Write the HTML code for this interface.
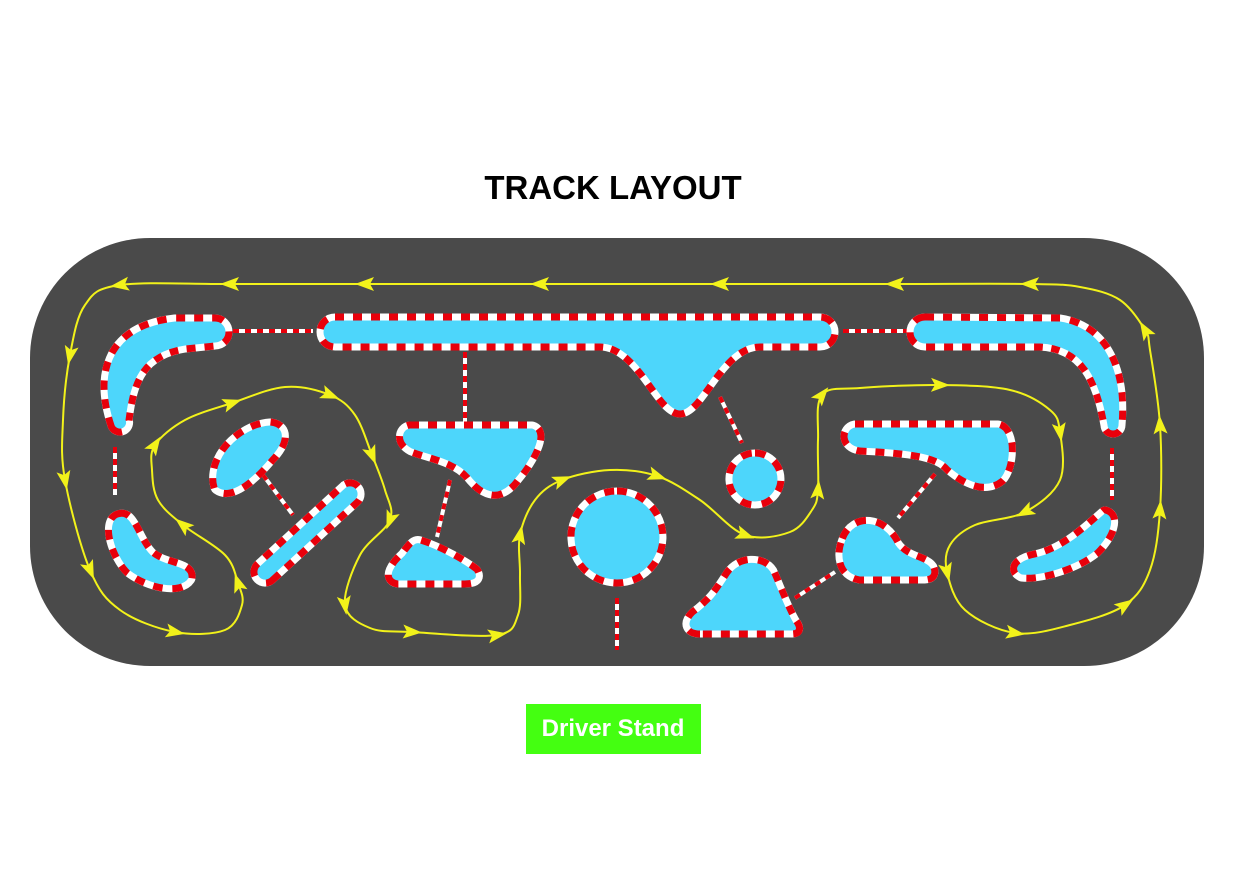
<!DOCTYPE html>
<html><head><meta charset="utf-8"><style>
html,body{margin:0;padding:0;background:#fff;width:1240px;height:877px;overflow:hidden}
svg{display:block}
</style></head><body>
<svg id="s" width="1240" height="877" viewBox="0 0 1240 877" xmlns="http://www.w3.org/2000/svg">
<text x="613" y="199" text-anchor="middle" font-family="Liberation Sans, sans-serif" font-weight="bold" font-size="33" fill="#000">TRACK LAYOUT</text>
<rect x="30" y="238" width="1174" height="428" rx="120" ry="120" fill="#4a4a4a"/>
<g id="bar"></g>
<g id="isl"></g>
<g id="yel"></g>
<rect x="526" y="704" width="175" height="50" fill="#44ff11"/>
<text x="613" y="736" text-anchor="middle" font-family="Liberation Sans, sans-serif" font-weight="bold" font-size="24" fill="#fff">Driver Stand</text>
</svg>
<script>
var NS="http://www.w3.org/2000/svg";
function el(p,t,a){var e=document.createElementNS(NS,t);for(var k in a)e.setAttribute(k,a[k]);p.appendChild(e);return e;}
var isl=document.getElementById('isl'),bar=document.getElementById('bar'),yel=document.getElementById('yel');
var islands=[
"M 115 425 C 100 380 105 330 175 322 L 215 322 A 10 10 0 0 1 215 342 L 185 345 C 140 352 130 380 125 420 A 5 5 0 0 1 115 425 Z",
"M 335 321 L 820 321 A 11 11 0 0 1 820 343 L 760 343 C 720 343 700 410 680 410 C 660 410 640 343 600 343 L 335 343 A 11 11 0 0 1 335 321 Z",
"M 925 321 L 1060 322 C 1110 330 1122 380 1118 425 A 5 5 0 0 1 1108 425 C 1100 380 1085 345 1040 343 L 925 343 A 11 11 0 0 1 925 321 Z",
"M 218 487 C 210 460 240 428 270 426 C 288 428 282 445 270 457 C 255 475 232 497 218 487 Z",
"M 270 577 L 355 499 A 7 7 0 0 0 345 489 L 260 567 A 7 7 0 0 0 270 577 Z",
"M 118 518 C 132 512 135 540 150 555 C 165 568 190 565 188 578 C 180 590 150 585 130 570 C 115 555 106 523 118 518 Z",
"M 410 429 L 532 429 C 545 433 530 460 515 478 C 500 498 485 494 470 475 C 455 458 430 455 412 448 C 400 442 402 430 410 429 Z",
"M 420 544 C 440 550 465 565 474 572 C 479 580 470 580 460 580 L 398 580 C 386 578 395 565 405 556 C 412 547 415 542 420 544 Z",
"M 617 495 A 42 42 0 1 1 616.9 495 Z",
"M 755 457 A 22 22 0 1 1 754.9 457 Z",
"M 700 630 C 690 630 686 624 695 615 C 715 600 720 590 730 575 C 740 560 762 560 770 572 C 778 590 785 610 793 623 C 798 630 795 630 790 630 Z",
"M 855 428 L 998 428 C 1013 432 1010 468 1000 478 C 985 490 965 480 950 467 C 940 455 920 450 860 447 C 845 445 845 430 855 428 Z",
"M 846 540 C 855 517 883 520 895 545 C 905 560 925 560 930 568 C 933 576 928 576 920 576 L 860 576 C 842 573 840 555 846 540 Z",
"M 1105 514 C 1116 517 1110 535 1095 550 C 1075 566 1040 576 1022 574 C 1012 569 1020 561 1035 558 C 1065 552 1090 527 1105 514 Z"
];
islands.forEach(function(d){
 el(isl,'path',{d:d,fill:'#fff',stroke:'#fff','stroke-width':15,'stroke-linejoin':'round'});
 el(isl,'path',{d:d,fill:'none',stroke:'#e8000b','stroke-width':15,'stroke-dasharray':'9 9','stroke-linejoin':'round'});
 el(isl,'path',{d:d,fill:'#4dd6fb',stroke:'#4dd6fb','stroke-width':1});
});
var bars=[[233,331,313,331],[843,331,907,331],[115,447,115,495],[465,352,465,422],[720,397,742,443],[263,475,293,515],[450,480,437,537],[617,598,617,650],[795,598,835,572],[935,474,898,518],[1112,448,1112,500]];
bars.forEach(function(b){
 el(bar,'line',{x1:b[0],y1:b[1],x2:b[2],y2:b[3],stroke:'#fff','stroke-width':4});
 el(bar,'line',{x1:b[0],y1:b[1],x2:b[2],y2:b[3],stroke:'#e8000b','stroke-width':4,'stroke-dasharray':'6 6'});
});
var P=[[1030,284,1],[895,284,1],[720,284,1],[540,284,1],[365,284,1],[230,284,1],[120,285,1],[85,305],[70,355,1],[63,420],[65,480,1],[90,570,1],[120,610],[175,632,1],[225,630],[242,605],[238,583,1],[225,555],[183,525,1],[158,500],[152,470],[155,445,1],[185,420],[232,403,1],[285,387],[330,395,1],[355,415],[372,455,1],[385,490],[390,520,1],[360,555],[345,605,1],[370,628],[412,632,1],[497,635,1],[518,615],[520,575],[520,535,1],[535,500],[562,480,1],[610,470],[657,476,1],[700,500],[745,535,1],[790,532],[812,510],[818,490,1],[818,440],[822,395,1],[860,388],[940,385,1],[1010,390],[1050,410],[1060,432,1],[1060,480],[1025,512,1],[975,525],[950,545],[947,572,1],[965,610],[1015,633,1],[1070,625],[1125,605,1],[1150,570],[1160,510,1],[1160,425,1],[1150,350],[1145,330,1],[1120,300],[1080,287]];
var n=P.length,d="M "+P[0][0]+" "+P[0][1];
for(var i=0;i<n;i++){
 var p0=P[(i-1+n)%n],p1=P[i],p2=P[(i+1)%n],p3=P[(i+2)%n];
 var c1x=p1[0]+(p2[0]-p0[0])/6,c1y=p1[1]+(p2[1]-p0[1])/6,c2x=p2[0]-(p3[0]-p1[0])/6,c2y=p2[1]-(p3[1]-p1[1])/6;
 d+=" C "+c1x.toFixed(1)+" "+c1y.toFixed(1)+" "+c2x.toFixed(1)+" "+c2y.toFixed(1)+" "+p2[0]+" "+p2[1];
}
el(yel,'path',{d:d+" Z",fill:'none',stroke:'#f2f21a','stroke-width':2});
for(var i=0;i<n;i++){ if(!P[i][2])continue;
 var a=P[(i-1+n)%n],b=P[(i+1)%n];var ang=Math.atan2(b[1]-a[1],b[0]-a[0])*180/Math.PI;
 el(yel,'polygon',{points:"10,0 -9,-7 -5,0 -9,7",fill:'#f2f21a',transform:"translate("+P[i][0]+","+P[i][1]+") rotate("+ang.toFixed(1)+")"});
}
</script>
</body></html>
